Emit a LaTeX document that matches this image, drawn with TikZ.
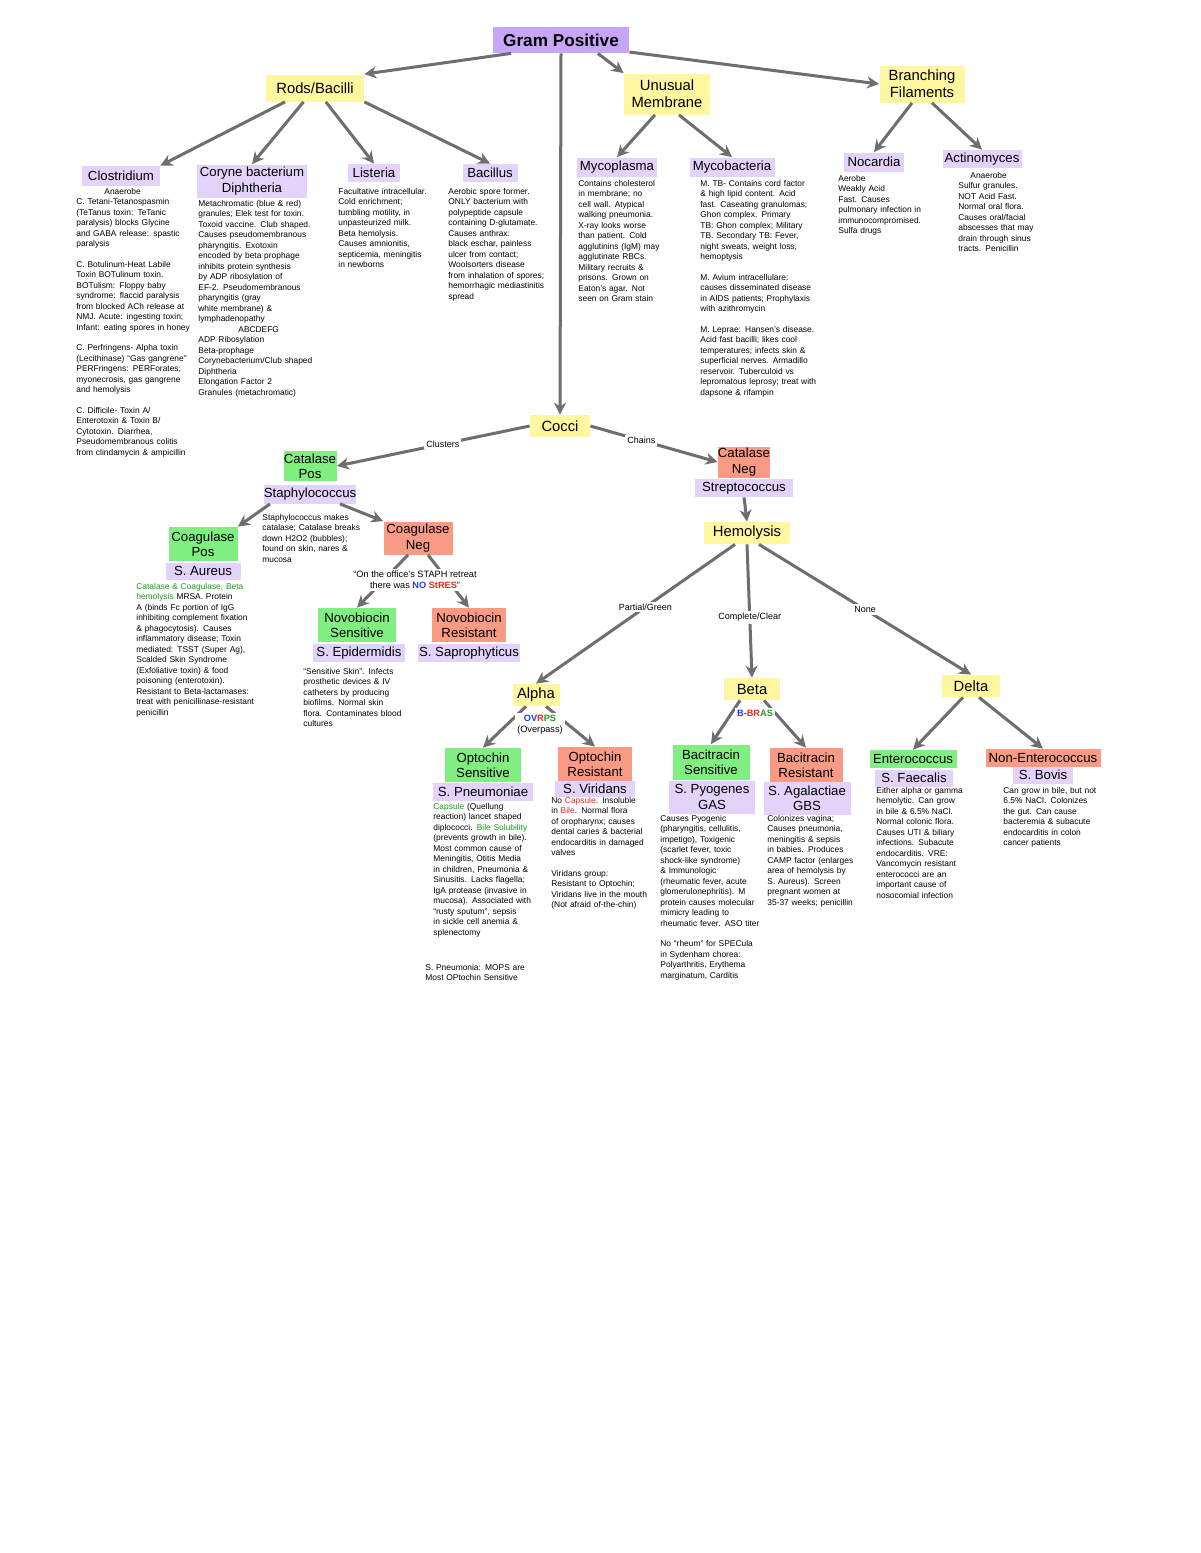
\documentclass[tikz,border=0pt]{standalone}
\usepackage{fontspec}
\setmainfont{Liberation Sans}
\usetikzlibrary{arrows.meta}
\definecolor{lav}{HTML}{E3D2FA}
\definecolor{ttl}{HTML}{C8A6F7}
\definecolor{yel}{HTML}{FFF6A0}
\definecolor{grn}{HTML}{80EE80}
\definecolor{sal}{HTML}{F99A85}
\definecolor{arrc}{HTML}{6E6E6E}
\definecolor{tgrn}{HTML}{1A9A1A}
\definecolor{tred}{HTML}{E8281E}
\definecolor{tblu}{HTML}{1E3CF0}
\tikzset{
  bx/.style={fill=#1, inner sep=0pt, align=center, font=\fontsize{6.6}{7.6}\selectfont},
  bbx/.style={fill=#1, inner sep=0pt, align=center, font=\fontsize{7.4}{8.4}\selectfont},
  arr/.style={draw=arrc, line width=1.5pt, -{Stealth[length=6pt,width=6pt]}, shorten >=0pt},
  desc/.style={anchor=north west, font=\fontsize{4.2}{5.25}\selectfont, align=left, inner sep=0pt},
  lbl/.style={fill=white, inner sep=1pt, font=\fontsize{4.5}{5.2}\selectfont},
}
\hyphenpenalty=10000
\exhyphenpenalty=10000
\begin{document}
\begin{tikzpicture}[x=0.5pt,y=-0.5pt]
\useasboundingbox[fill=white] (0,0) rectangle (1200,1553);
% ---------- boxes ----------
\node[bbx=ttl, minimum width=68pt, minimum height=13pt, font=\fontsize{8.6}{10}\bfseries] (gram) at (561,40) {Gram Positive};
\node[bbx=yel, minimum width=49pt, minimum height=13.5pt] (rods) at (315,88) {Rods/Bacilli};
\node[bbx=yel, minimum width=43pt, minimum height=20.5pt] (unus) at (667,94) {Unusual\\Membrane};
\node[bbx=yel, minimum width=42.5pt, minimum height=18.5pt] (branch) at (922,84) {Branching\\Filaments};
\node[bx=lav, minimum width=39pt, minimum height=10pt] (clos) at (121,176) {Clostridium};
\node[bx=lav, minimum width=55pt, minimum height=16.5pt] (cory) at (252,181) {Coryne bacterium\\Diphtheria};
\node[bx=lav, minimum width=26pt, minimum height=9pt] (list) at (374,173) {Listeria};
\node[bx=lav, minimum width=27.5pt, minimum height=9pt] (baci) at (490,173) {Bacillus};
\node[bx=lav, minimum width=40pt, minimum height=9.5pt] (mycop) at (617,167) {Mycoplasma};
\node[bx=lav, minimum width=42.5pt, minimum height=9.5pt] (mycob) at (732,167) {Mycobacteria};
\node[bx=lav, minimum width=30pt, minimum height=9.5pt] (noca) at (874,162) {Nocardia};
\node[bx=lav, minimum width=39.5pt, minimum height=9pt] (acti) at (982,159) {Actinomyces};
\node[bbx=yel, minimum width=30pt, minimum height=11pt] (cocci) at (560,426) {Cocci};
\node[bx=grn, minimum width=26.5pt, minimum height=15pt] (catp) at (310,466) {Catalase\\Pos};
\node[bx=lav, minimum width=46pt, minimum height=9.5pt] (staph) at (310,494) {Staphylococcus};
\node[bx=sal, minimum width=26pt, minimum height=15.5pt] (catn) at (744,462) {Catalase\\Neg};
\node[bx=lav, minimum width=49pt, minimum height=9pt] (strep) at (744,488) {Streptococcus};
\node[bbx=yel, minimum width=43pt, minimum height=11pt] (hemo) at (747,533) {Hemolysis};
\node[bx=grn, minimum width=34.5pt, minimum height=17pt] (coagp) at (203,544) {Coagulase\\Pos};
\node[bx=lav, minimum width=37.5pt, minimum height=8.5pt] (aur) at (203,571) {S. Aureus};
\node[bx=sal, minimum width=34.5pt, minimum height=16.5pt] (coagn) at (418,538) {Coagulase\\Neg};
\node[bx=grn, minimum width=39pt, minimum height=17pt] (novs) at (357,625) {Novobiocin\\Sensitive};
\node[bx=lav, minimum width=46pt, minimum height=9pt] (epi) at (359,653) {S. Epidermidis};
\node[bx=sal, minimum width=37pt, minimum height=17pt] (novr) at (469,625) {Novobiocin\\Resistant};
\node[bx=lav, minimum width=51pt, minimum height=9pt] (sap) at (469,653) {S. Saprophyticus};
\node[bbx=yel, minimum width=23.5pt, minimum height=11pt] (alpha) at (536,695) {Alpha};
\node[bbx=yel, minimum width=28pt, minimum height=11pt] (beta) at (752,689) {Beta};
\node[bbx=yel, minimum width=29pt, minimum height=11pt] (delta) at (971,686) {Delta};
\node[bx=grn, minimum width=38pt, minimum height=17pt] (opts) at (483,765) {Optochin\\Sensitive};
\node[bx=lav, minimum width=50pt, minimum height=9pt] (pneu) at (483,792) {S. Pneumoniae};
\node[bx=sal, minimum width=37pt, minimum height=17pt] (optr) at (595,764) {Optochin\\Resistant};
\node[bx=lav, minimum width=40pt, minimum height=8pt] (viri) at (595,789) {S. Viridans};
\node[bx=grn, minimum width=38.5pt, minimum height=17.5pt] (bacs) at (711,762) {Bacitracin\\Sensitive};
\node[bx=lav, minimum width=43pt, minimum height=16.5pt] (pyo) at (712,797) {S. Pyogenes\\GAS};
\node[bx=sal, minimum width=36.5pt, minimum height=17pt] (bacr) at (806,765) {Bacitracin\\Resistant};
\node[bx=lav, minimum width=43.5pt, minimum height=16.5pt] (aga) at (807,798) {S. Agalactiae\\GBS};
\node[bx=grn, minimum width=43.5pt, minimum height=9pt] (ent) at (913,759) {Enterococcus};
\node[bx=lav, minimum width=39pt, minimum height=8.5pt] (faec) at (914,778) {S. Faecalis};
\node[bx=sal, minimum width=57.5pt, minimum height=9pt] (nent) at (1043,758) {Non-Enterococcus};
\node[bx=lav, minimum width=30pt, minimum height=8.5pt] (bov) at (1043,775) {S. Bovis};
% ---------- arrows ----------
\draw[arr] (gram.195) -- (rods.north east);
\draw[arr] (gram.south) -- (cocci.north);
\draw[arr] (gram.-20) -- (unus.north west);
\draw[arr] (gram.-10) -- (branch.west);
\draw[arr] ([xshift=-15pt]rods.south) -- (clos.north east);
\draw[arr] (rods) -- (cory.north);
\draw[arr] (rods) -- (list.north);
\draw[arr] (rods.south east) -- (baci.north);
\draw[arr] ([xshift=-6pt]unus.south) -- (mycop.north);
\draw[arr] ([xshift=6pt]unus.south) -- (mycob.north);
\draw[arr] ([xshift=-5pt]branch.south) -- (noca.north);
\draw[arr] ([xshift=5pt]branch.south) -- (acti.north);
\draw[arr] (cocci.west) -- (catp.east) node[lbl, pos=0.45] {Clusters};
\draw[arr] (cocci.east) -- (catn.west) node[lbl, pos=0.4] {Chains};
\draw[arr] ([xshift=-20pt]staph.south) -- (coagp.north east);
\draw[arr] ([xshift=15pt]staph.south) -- (coagn.north west);
\draw[arr] ([xshift=-5pt]coagn.south) -- (novs.north);
\draw[arr] ([xshift=5pt]coagn.south) -- (novr.north);
\draw[arr] (strep.south) -- (hemo.north);
\draw[arr] ([xshift=-6pt]hemo.south) -- (alpha.north) node[lbl, pos=0.45] {Partial/Green};
\draw[arr] (hemo.south) -- (beta.north) node[lbl, pos=0.55] {Complete/Clear};
\draw[arr] ([xshift=6pt]hemo.south) -- (delta.north) node[lbl, pos=0.5] {None};
\draw[arr] ([xshift=-5pt]alpha.south) -- (opts.north);
\draw[arr] ([xshift=5pt]alpha.south) -- (optr.north);
\draw[arr] ([xshift=-6pt]beta.south) -- (bacs.north);
\draw[arr] ([xshift=6pt]beta.south) -- (bacr.north);
\draw[arr] ([xshift=-4pt]delta.south) -- (ent.north);
\draw[arr] ([xshift=4pt]delta.south) -- (nent.north);
% ---------- labels on arrows ----------
\node[lbl, align=center, font=\fontsize{4.6}{5.4}\selectfont] (quote) at (415,580) {``On the office's STAPH retreat\\there was {\color{tblu}\bfseries NO} {\color{tred}\bfseries StRES}''};
\node[lbl, align=center, font=\fontsize{4.6}{5.4}\selectfont] (ovrps) at (540,725) {{\bfseries\color{tblu}O}{\bfseries\color{tblu}V}{\bfseries\color{tred}R}{\bfseries\color{tgrn}P}{\bfseries\color{tgrn}S}\\(Overpass)};
\node[lbl, font=\fontsize{4.6}{5.4}\bfseries] (bbras) at (755,713) {{\color{tblu}B-}{\color{tred}BR}{\color{tgrn}AS}};
% ---------- descriptions ----------
\node[desc, text width=57pt] (dclos) at (76,188) {\hspace*{14pt}Anaerobe\\
C. Tetani-Tetanospasmin (TeTanus toxin: TeTanic paralysis) blocks Glycine and GABA release: spastic paralysis\\[5pt]
C. Botulinum-Heat Labile Toxin BOTulinum toxin. BOTulism: Floppy baby syndrome: flaccid paralysis from blocked ACh release at NMJ. Acute: ingesting toxin; Infant: eating spores in honey\\[5pt]
C. Perfringens- Alpha toxin (Lecithinase) ``Gas gangrene'' PERFringens: PERForates; myonecrosis, gas gangrene and hemolysis\\[5pt]
C. Difficile- Toxin A/ Enterotoxin \& Toxin B/ Cytotoxin. Diarrhea, Pseudomembranous colitis from clindamycin \& ampicillin};
\node[desc, text width=60pt] (dcory) at (198,200) {Metachromatic (blue \& red) granules; Elek test for toxin. Toxoid vaccine. Club shaped. Causes pseudomembranous pharyngitis. Exotoxin encoded by beta prophage inhibits protein synthesis by ADP ribosylation of EF-2. Pseudomembranous pharyngitis (gray white membrane) \& lymphadenopathy\\
\hspace*{20pt}ABCDEFG\\
ADP Ribosylation\\
Beta-prophage\\
Corynebacterium/Club shaped\\
Diphtheria\\
Elongation Factor 2\\
Granules (metachromatic)};
\node[desc, text width=45pt] (dlist) at (338,188) {Facultative intracellular. Cold enrichment; tumbling motility, in unpasteurized milk. Beta hemolysis. Causes amnionitis, septicemia, meningitis in newborns};
\node[desc, text width=48pt] (dbaci) at (448,188) {Aerobic spore former. ONLY bacterium with polypeptide capsule containing D-glutamate. Causes anthrax: black eschar, painless ulcer from contact; Woolsorters disease from inhalation of spores; hemorrhagic mediastinitis spread};
\node[desc, text width=41pt] (dmycop) at (578,180) {Contains cholesterol in membrane; no cell wall. Atypical walking pneumonia. X-ray looks worse than patient. Cold agglutinins (IgM) may agglutinate RBCs. Military recruits \& prisons. Grown on Eaton's agar. Not seen on Gram stain};
\node[desc, text width=58pt] (dmycob) at (700,180) {M. TB- Contains cord factor \& high lipid content. Acid fast. Caseating granulomas; Ghon complex. Primary TB: Ghon complex; Military TB. Secondary TB: Fever, night sweats, weight loss, hemoptysis\\[5pt]
M. Avium intracellulare: causes disseminated disease in AIDS patients; Prophylaxis with azithromycin\\[5pt]
M. Leprae: Hansen's disease. Acid fast bacilli; likes cool temperatures; infects skin \& superficial nerves. Armadillo reservoir. Tuberculoid vs lepromatous leprosy; treat with dapsone \& rifampin};
\node[desc, text width=50pt] (dnoca) at (838,175) {Aerobe\\Weakly Acid Fast. Causes pulmonary infection in immunocompromised. Sulfa drugs};
\node[desc, text width=40pt] (dacti) at (958,172) {\hspace*{6pt}Anaerobe\\Sulfur granules. NOT Acid Fast. Normal oral flora. Causes oral/facial abscesses that may drain through sinus tracts. Penicillin};
\node[desc, text width=52pt] (dstaph) at (262,514) {Staphylococcus makes catalase; Catalase breaks down H2O2 (bubbles); found on skin, nares \& mucosa};
\node[desc, text width=62pt] (daur) at (136,583) {{\color{tgrn}Catalase \& Coagulase, Beta hemolysis} MRSA. Protein A (binds Fc portion of IgG inhibiting complement fixation \& phagocytosis). Causes inflammatory disease; Toxin mediated: TSST (Super Ag), Scalded Skin Syndrome (Exfoliative toxin) \& food poisoning (enterotoxin). Resistant to Beta-lactamases: treat with penicillinase-resistant penicillin};
\node[desc, text width=51pt] (depi) at (303,668) {``Sensitive Skin''. Infects prosthetic devices \& IV catheters by producing biofilms. Normal skin flora. Contaminates blood cultures};
\node[desc, text width=49pt] (dpneu) at (433,803) {{\color{tgrn}Capsule} (Quellung reaction) lancet shaped diplococci. {\color{tgrn}Bile Solubility} (prevents growth in bile). Most common cause of Meningitis, Otitis Media in children, Pneumonia \& Sinusitis. Lacks flagella; IgA protease (invasive in mucosa). Associated with ``rusty sputum'', sepsis in sickle cell anemia \& splenectomy};
\node[desc, text width=55pt] (dpneu2) at (425,964) {S. Pneumonia: MOPS are\\Most OPtochin Sensitive};
\node[desc, text width=48pt] (dviri) at (551,797) {No {\color{tred}Capsule}. Insoluble in {\color{tred}Bile}. Normal flora of oropharynx; causes dental caries \& bacterial endocarditis in damaged valves\\[5pt]
Viridans group: Resistant to Optochin; Viridans live in the mouth (Not afraid of-the-chin)};
\node[desc, text width=50pt] (dpyo) at (660,815) {Causes Pyogenic (pharyngitis, cellulitis, impetigo), Toxigenic (scarlet fever, toxic shock-like syndrome) \& Immunologic (rheumatic fever, acute glomerulonephritis). M protein causes molecular mimicry leading to rheumatic fever. ASO titer\\[5pt]
No ``rheum'' for SPECula in Sydenham chorea: Polyarthritis, Erythema marginatum, Carditis};
\node[desc, text width=45pt] (daga) at (767,815) {Colonizes vagina; Causes pneumonia, meningitis \& sepsis in babies. Produces CAMP factor (enlarges area of hemolysis by S. Aureus). Screen pregnant women at 35-37 weeks; penicillin};
\node[desc, text width=47pt] (dfaec) at (876,787) {Either alpha or gamma hemolytic. Can grow in bile \& 6.5\% NaCl. Normal colonic flora. Causes UTI \& biliary infections. Subacute endocarditis. VRE: Vancomycin resistant enterococci are an important cause of nosocomial infection};
\node[desc, text width=48pt] (dbov) at (1003,787) {Can grow in bile, but not 6.5\% NaCl. Colonizes the gut. Can cause bacteremia \& subacute endocarditis in colon cancer patients};
\end{tikzpicture}
\end{document}
